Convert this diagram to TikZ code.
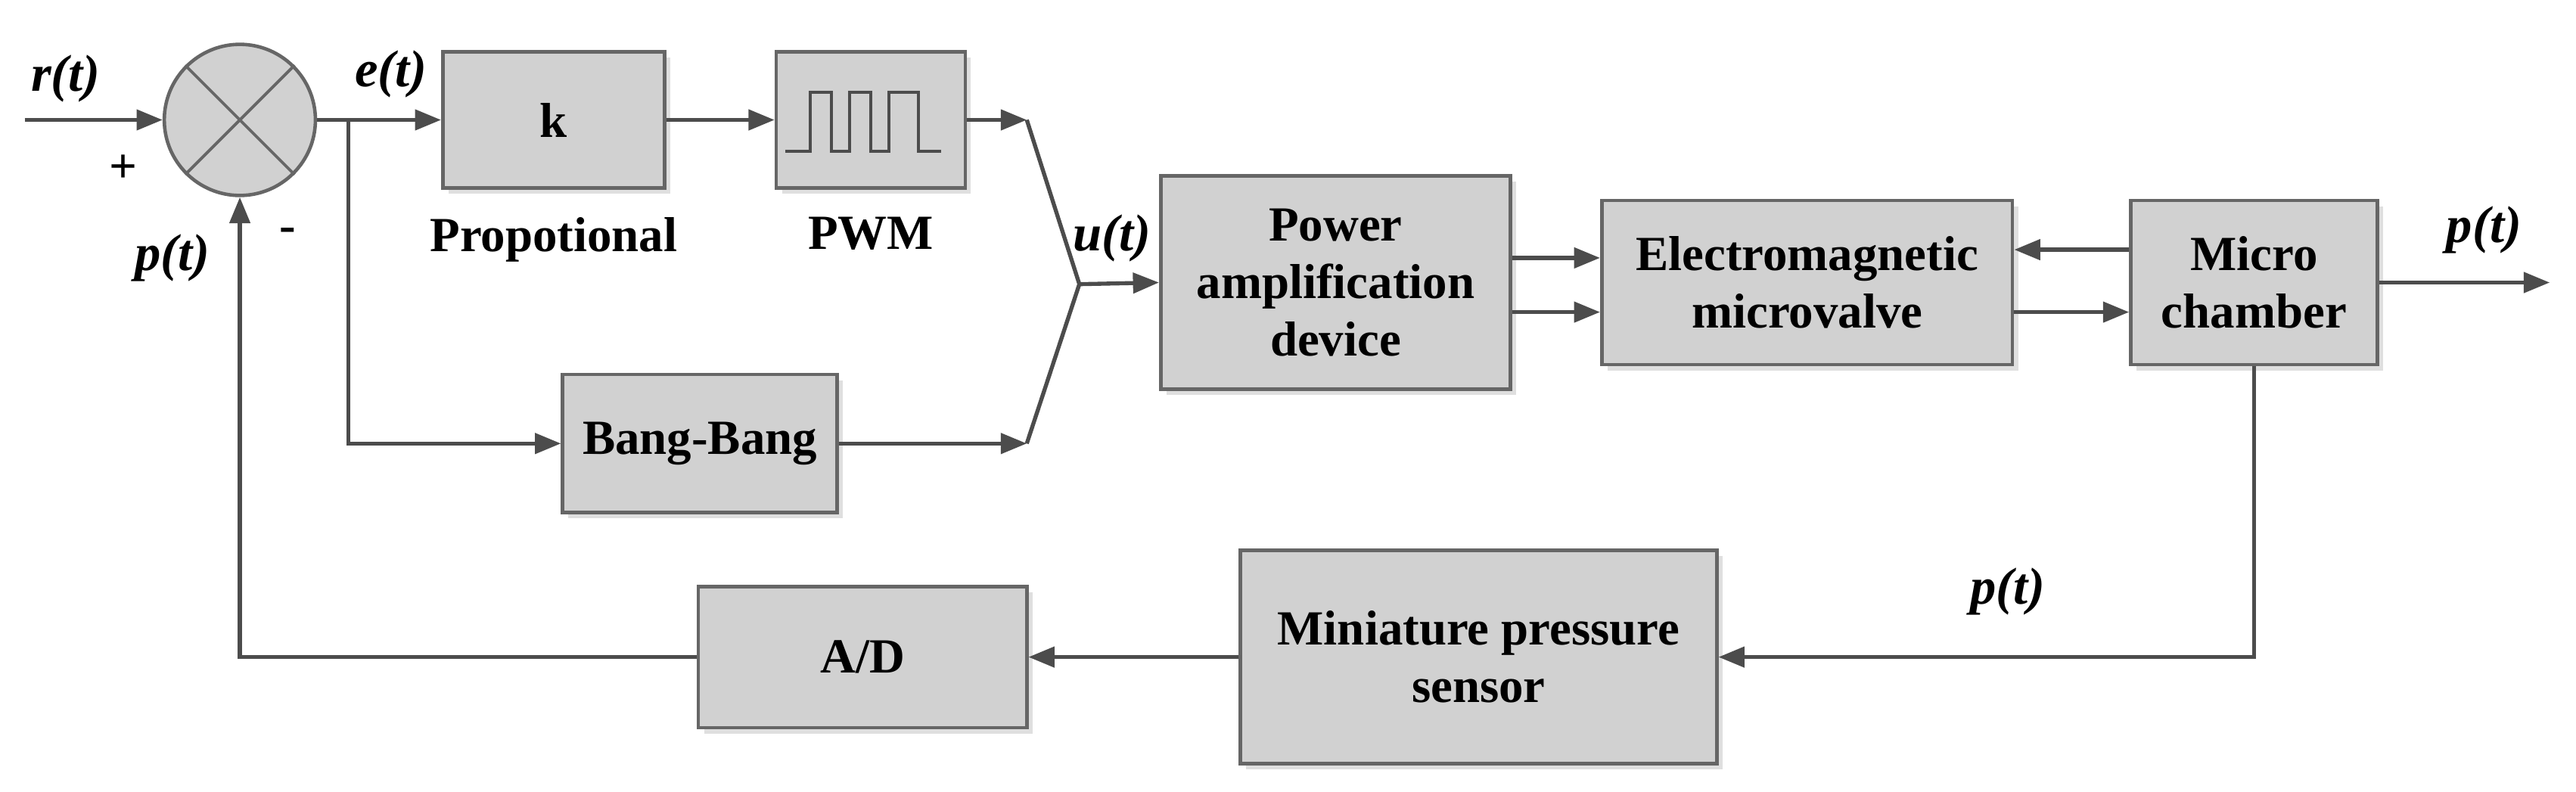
\documentclass[tikz,border=0pt]{standalone}
\usepackage{fontspec}
\setmainfont{Liberation Serif}
\usetikzlibrary{arrows.meta,shadows,positioning}
\tikzset{
  blk/.style={draw=black!60,line width=1.2pt,fill=black!18,minimum width=#1,
    align=center,font=\bfseries\fontsize{17}{20}\selectfont,
    drop shadow={shadow xshift=2pt,shadow yshift=-2pt,fill=black!25}},
  lbl/.style={font=\bfseries\fontsize{17}{20}\selectfont},
  sig/.style={font=\bfseries\itshape\fontsize{18}{20}\selectfont},
  ar/.style={draw=black!70,line width=1.4pt,-{Triangle[length=9pt,width=7pt]}},
  ln/.style={draw=black!70,line width=1.4pt}
}
\begin{document}
\begin{tikzpicture}[x=0.02cm,y=-0.02cm]
  \useasboundingbox (0,0) rectangle (1568,482);
  % summing junction
  \node [circle,draw=black!60,line width=1.2pt,fill=black!18,minimum size=92*0.02cm,inner sep=0pt] (sum) at (146,73) {};
  \draw [black!60,line width=1pt] (sum.45) -- (sum.225) (sum.135) -- (sum.315);
  \coordinate (in) at (15,73);
  \draw [ar] (in) -- (sum.west);
  \node [sig] at (40,48) {r(t)};
  \node [lbl] at (75,103) {+};
  \node [sig] at (105,157) {p(t)};
  \node [lbl] at (175,143) {-};
  % forward path
  \node [blk=135*0.02cm,minimum height=83*0.02cm] (k) at (337,73) {k};
  \node [lbl,below=6pt of k] (kname) {Propotional};
  \node [blk=115*0.02cm,minimum height=83*0.02cm] (pwm) at (530,73) {};
  \node [lbl,below=6pt of pwm] (pwmname) {PWM};
  \draw [black!70,line width=1pt] (478,92) -- (493,92) -- (493,56) -- (506,56) -- (506,92)
    -- (517,92) -- (517,56) -- (530,56) -- (530,92) -- (541,92) -- (541,56) -- (559,56) -- (559,92) -- (573,92);
  \node [blk=167*0.02cm,minimum height=84*0.02cm] (bang) at (426,270) {Bang-Bang};
  \coordinate (br) at (212,73);
  \node [sig] at (238,45) {e(t)};
  \draw [ar] (sum.east) -- (k.west);
  \draw [ar] (k.east) -- (pwm.west);
  \draw [ar] (br) |- (bang.west);
  % switch
  \coordinate (s1) at (625,73);
  \coordinate (s2) at (625,270);
  \coordinate (sv) at (657,173);
  \draw [ar] (pwm.east) -- (s1);
  \draw [ar] (bang.east) -- (s2);
  \draw [ln] (s1) -- (sv) -- (s2);
  \node [sig] at (677,145) {u(t)};
  \node [blk=213*0.02cm,minimum height=130*0.02cm] (amp) at (813,172) {Power\\amplification\\device};
  \draw [ar] (sv) -- (amp.west);
  \node [blk=250*0.02cm,minimum height=100*0.02cm] (valve) at (1100,172) {Electromagnetic\\microvalve};
  \node [blk=150*0.02cm,minimum height=100*0.02cm] (cham) at (1372,172) {Micro\\chamber};
  \draw [ar] ([yshift=15*0.02cm]amp.east) -- ([yshift=15*0.02cm]valve.west);
  \draw [ar] ([yshift=-18*0.02cm]amp.east) -- ([yshift=-18*0.02cm]valve.west);
  \draw [ar] ([yshift=20*0.02cm]cham.west) -- ([yshift=20*0.02cm]valve.east);
  \draw [ar] ([yshift=-18*0.02cm]valve.east) -- ([yshift=-18*0.02cm]cham.west);
  \coordinate (out) at (1552,172);
  \draw [ar] (cham.east) -- (out);
  \node [sig] at (1512,140) {p(t)};
  % feedback path
  \node [blk=290*0.02cm,minimum height=130*0.02cm] (sens) at (900,400) {Miniature pressure\\sensor};
  \node [blk=200*0.02cm,minimum height=86*0.02cm] (ad) at (525,400) {A/D};
  \draw [ar] (cham.south) |- (sens.east);
  \node [sig] at (1222,360) {p(t)};
  \draw [ar] (sens.west) -- (ad.east);
  \draw [ar] (ad.west) -| (sum.south);
\end{tikzpicture}
\end{document}
